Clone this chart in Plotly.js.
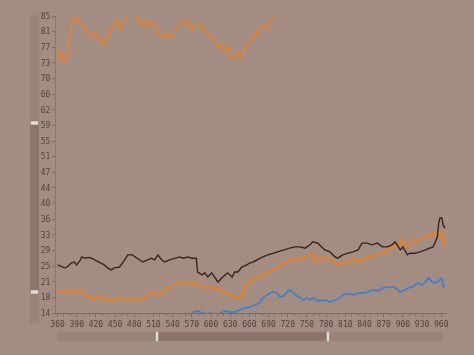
<!DOCTYPE html>
<html>
<head>
<meta charset="utf-8">
<script src="https://cdn.plot.ly/plotly-3.0.1.min.js"></script>
<style>html,body{margin:0;padding:0;background:#a38d83;}#chart{width:474px;height:355px;filter:blur(0.35px);}</style>
</head>
<body>
<div id="chart"></div>
<script>
// Y tick labels (as printed on the axis)
var yLabels = ['14','18','21','25','29','33','36','40','44','47','51','55','59','62','66','70','73','77','81','85'];

// Upper orange series
var upX = [360,363,367,371,375,379,384,390,394,402,407,413,418,423,430,437,441,446,452,457,462,468,473,479,483,485,492,496,501,507,512,517,523,528,532,539,543,548,554,559,564,570,575,582,587,595,601,606,611,617,622,626,633,637,642,648,653,658,664,669,673,680,684,689,695,697];
var upY = [76.9,74.5,76.2,73.8,75.2,80,84,84.5,83.3,82.4,81.2,80,80.9,80,78,79.3,81.6,82.8,84,81.6,83.3,84.8,86.5,87,86,84,82.8,84,82.4,84,82.1,80.9,80.5,79.7,80.9,79.7,81.2,82.8,84,82.8,83.6,81.6,82.8,82.8,82.1,80.9,79.7,78.5,77.4,78,76.4,77.6,74.5,75.2,76.2,75.2,77.6,78.5,79.3,80.9,80.5,82.4,82.8,82.4,84,84.8];

// Dark brown series
var brX = [360,366,371,375,382,386,390,395,398,403,408,413,418,426,433,438,444,449,457,465,470,477,485,493,501,507,512,517,523,528,535,543,551,556,564,570,577,579,586,590,595,601,606,611,617,622,626,633,637,642,648,656,661,666,672,676,681,689,697,705,712,723,731,739,747,755,759,767,775,778,786,794,798,806,814,822,830,836,844,852,860,868,876,883,888,891,896,900,907,911,919,927,935,943,947,950,954,956,958,961,963,966];
var brY = [25.5,25.2,24.8,25.0,26.0,26.2,25.5,26.5,27.4,27.1,27.3,27.1,26.7,26.0,25.5,24.8,24.3,24.8,25.0,26.7,27.9,27.9,27.1,26.2,26.7,27.1,26.7,27.9,26.7,26.2,26.7,27.1,27.4,27.1,27.4,27.1,27.1,23.8,23.1,23.6,22.6,23.6,22.4,21.4,22.4,23.1,23.6,22.6,23.8,23.8,25.0,25.5,26.0,26.2,26.7,27.1,27.4,27.9,28.3,28.6,29.1,29.5,29.8,29.8,29.5,30.3,31.0,30.7,29.5,29.1,28.6,27.4,27.1,27.9,28.3,28.6,29.1,30.7,30.7,30.3,30.7,29.8,29.8,30.3,31.0,30.3,29.1,29.8,27.9,28.3,28.3,28.6,29.1,29.5,29.8,30.7,32.2,35.5,36.7,36.7,35.0,34.3];

// Lower orange series
var loX = [360,365,370,378,384,394,401,407,415,423,430,438,446,454,462,470,480,488,496,504,512,520,528,535,543,551,556,564,571,582,590,598,606,614,622,629,637,645,650,653,658,665,673,681,689,697,705,712,720,728,736,744,751,758,762,767,772,778,786,794,802,810,817,825,833,841,849,857,864,872,880,888,896,899,907,915,922,930,938,945,953,958,961,963,966];
var loY = [19.5,19.0,18.8,19.5,19.0,19.5,18.8,17.8,17.6,17.8,17.6,17.1,17.1,17.4,17.6,17.1,17.4,17.1,17.6,18.8,18.8,18.3,19.5,20.2,20.7,21.4,21.4,21.2,21.2,20.7,20.2,20.2,20.0,19.5,19.0,18.3,17.8,17.6,18.3,20.2,21.2,21.9,22.4,23.1,23.8,24.3,24.8,26.0,26.2,26.7,26.7,27.1,27.4,28.3,27.1,26.2,27.1,27.4,26.7,26.0,25.5,26.0,26.2,26.7,26.2,27.1,27.4,27.9,28.3,28.6,29.5,29.8,30.3,31.5,29.8,31.0,31.5,32.0,32.2,32.7,33.4,32.2,33.4,31.5,29.8];

// Blue series
var blX = [570,575,579,586,593,598,603,611,617,622,629,637,645,653,661,669,676,681,687,692,697,703,708,714,719,723,728,734,739,744,750,755,759,767,775,778,786,794,802,806,814,822,830,838,846,853,861,869,877,885,891,896,904,908,916,922,930,935,940,946,950,954,961,963,966];
var blY = [14.0,14.2,14.5,14.0,13.8,14.0,13.8,13.6,14.2,14.5,14.2,14.2,14.7,15.2,15.4,15.9,16.4,17.6,18.3,18.8,19.0,18.8,17.8,18.1,19.0,19.5,19.0,18.1,17.6,17.1,17.6,17.1,17.6,16.9,17.1,17.1,16.6,17.1,17.6,18.3,18.6,18.3,18.8,18.8,19.0,19.5,19.3,20.0,20.2,20.2,19.7,19.0,19.5,20.0,20.2,21.2,20.7,21.4,22.4,21.4,21.2,21.4,22.4,20.2,20.7];

var yMin = 14, yMax = 85;
var yTickVals = yLabels.map(function(_, k){ return yMin + k*(yMax - yMin)/(yLabels.length - 1); });

var traces = [
  {x: upX, y: upY, type: 'scatter', mode: 'lines', line: {color: 'rgba(228,128,45,0.88)', width: 2}, hoverinfo: 'none'},
  {x: loX, y: loY, type: 'scatter', mode: 'lines', line: {color: 'rgba(230,128,40,0.88)', width: 2.5}, hoverinfo: 'none'},
  {x: brX, y: brY, type: 'scatter', mode: 'lines', line: {color: '#3a231c', width: 1.4}, hoverinfo: 'none'},
  {x: blX, y: blY, type: 'scatter', mode: 'lines', line: {color: '#3b7ed0', width: 1.6}, hoverinfo: 'none'}
];

var axisFont = {family: 'DejaVu Sans Mono', size: 8, color: '#54423b'};
var sliderBand = 'rgba(70,40,30,0.10)';
var sliderFill = 'rgba(70,40,30,0.15)';
var handle = {color: '#e4dcd8', line: '#8d7b73'};

var shapes = [
  // vertical slider (left)
  {type: 'rect', xref: 'paper', yref: 'paper', x0: -0.0665, x1: -0.0435, y0: -0.0337, y1: 1.0034, fillcolor: sliderBand, line: {width: 0}, layer: 'below'},
  {type: 'rect', xref: 'paper', yref: 'paper', x0: -0.0665, x1: -0.0435, y0: 0.0707, y1: 0.6397, fillcolor: sliderFill, line: {width: 0}, layer: 'below'},
  {type: 'rect', xref: 'paper', yref: 'paper', x0: -0.0650, x1: -0.0450, y0: 0.6330, y1: 0.6464, fillcolor: handle.color, line: {color: handle.line, width: 0.5}},
  {type: 'rect', xref: 'paper', yref: 'paper', x0: -0.0650, x1: -0.0450, y0: 0.0640, y1: 0.0774, fillcolor: handle.color, line: {color: handle.line, width: 0.5}},
  // horizontal slider (bottom)
  {type: 'rect', xref: 'paper', yref: 'paper', x0: 0.0026, x1: 0.9898, y0: -0.0943, y1: -0.064, fillcolor: sliderBand, line: {width: 0}, layer: 'below'},
  {type: 'rect', xref: 'paper', yref: 'paper', x0: 0.2583, x1: 0.6957, y0: -0.0943, y1: -0.064, fillcolor: sliderFill, line: {width: 0}, layer: 'below'},
  {type: 'rect', xref: 'paper', yref: 'paper', x0: 0.2545, x1: 0.2621, y0: -0.0960, y1: -0.0620, fillcolor: handle.color, line: {color: handle.line, width: 0.5}},
  {type: 'rect', xref: 'paper', yref: 'paper', x0: 0.6918, x1: 0.6994, y0: -0.0960, y1: -0.0620, fillcolor: handle.color, line: {color: handle.line, width: 0.5}}
];

var layout = {
  width: 474, height: 355,
  margin: {l: 56, r: 27, t: 16, b: 42, pad: 0},
  paper_bgcolor: '#a38d83',
  plot_bgcolor: '#a38d83',
  showlegend: false,
  xaxis: {
    range: [357.6, 969], tick0: 360, dtick: 30, showgrid: false, zeroline: false,
    showline: true, linecolor: '#7e6a62', linewidth: 1,
    ticks: 'outside', ticklen: 3, tickcolor: '#7e6a62', tickfont: axisFont,
    minor: {ticks: 'outside', dtick: 10, ticklen: 2, tickcolor: '#7e6a62', showgrid: false}
  },
  yaxis: {
    range: [yMin, yMax], tickmode: 'array', tickvals: yTickVals, ticktext: yLabels,
    showgrid: false, zeroline: false, showline: true, linecolor: '#8a766e', linewidth: 1,
    ticks: 'outside', ticklen: 3, tickcolor: '#7e6a62', tickfont: axisFont
  },
  shapes: shapes
};

Plotly.newPlot('chart', traces, layout, {displayModeBar: false, staticPlot: true});
</script>
</body>
</html>
